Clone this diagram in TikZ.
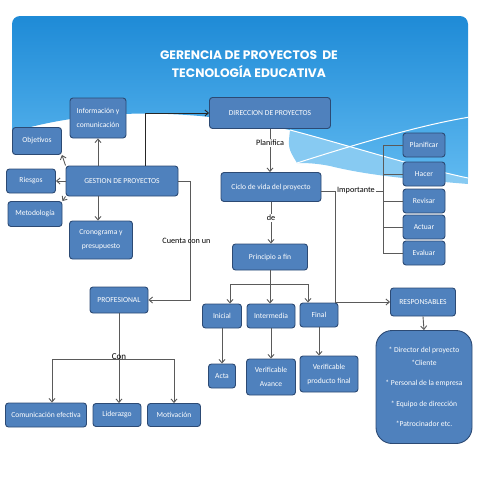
\documentclass[tikz,border=0pt]{standalone}
\usepackage{fontspec}
\setmainfont{Carlito}
\newfontfamily\titlefont{Poppins}
\usetikzlibrary{arrows.meta}
\definecolor{boxblue}{RGB}{79,129,189}
\definecolor{boxline}{RGB}{44,74,116}
\definecolor{linegray}{RGB}{90,90,90}
\definecolor{skytop}{RGB}{24,134,212}
\definecolor{skylow}{RGB}{95,185,240}
\definecolor{skylens}{RGB}{135,202,242}
\newcommand{\cajafont}{\fontsize{7.6}{14}\selectfont}
\newcommand{\etiqfont}{\fontsize{8.2}{9.5}\selectfont}
\tikzset{
  box/.style={draw=boxline, fill=boxblue, line width=0.9pt, rounded corners=3pt,
    text=white, font=\cajafont, align=center, inner sep=1pt},
  pdca/.style={box, minimum width=42pt, minimum height=24pt},
  link/.style={draw=linegray, line width=0.9pt, -{Straight Barb[length=3.5pt,width=6pt]}},
  tie/.style={draw=linegray, line width=0.9pt},
  lbl/.style={font=\etiqfont, inner sep=1pt},
}

\begin{document}
\begin{tikzpicture}[x=1pt, y=-1pt]
  \useasboundingbox (0,0) rectangle (480,480);
  % banner
  \begin{scope}
    \clip[rounded corners=8pt] (12,16) rectangle (468,200);
    \shade[top color=skytop, bottom color=skylow] (0,0) -- (480,0) -- (480,180) -- (468,178)
      .. controls (420,168) and (340,143) .. (290,130)
      .. controls (260,124) and (240,120) .. (200,116)
      .. controls (130,110) and (70,115) .. (12,132) -- (0,134) -- cycle;
    \fill[skylens] (290,130) .. controls (340,143) and (420,168) .. (468,178) -- (468,184)
      .. controls (420,180) and (370,176) .. (330,166)
      .. controls (315,163) and (305,163) .. (297,163)
      .. controls (288,148) .. (290,130) -- cycle;
    \draw[white, line width=1pt] (290,130) .. controls (340,143) and (420,168) .. (468,178);
    \draw[white, line width=1pt] (297,163) .. controls (350,146) and (420,125) .. (470,117);
  \end{scope}
  \node[font=\titlefont\bfseries\fontsize{12.3}{18}\selectfont, text=white, align=center] (titulo)
    at (249,64) {GERENCIA DE PROYECTOS\ \ DE\\TECNOLOGÍA EDUCATIVA};

  % gestion
  \node[box, minimum width=56pt, minimum height=40pt] (info) at (98,118) {Información y\\comunicación};
  \node[box, minimum width=121pt, minimum height=31pt] (dir) at (270,113) {DIRECCION DE PROYECTOS};
  \node[box, minimum width=49pt, minimum height=27pt] (obj) at (37,141) {Objetivos};
  \node[box, minimum width=112pt, minimum height=30pt] (gest) at (122,181) {GESTION DE PROYECTOS};
  \node[box, minimum width=49pt, minimum height=24pt] (ries) at (31,181) {Riesgos};
  \node[box, minimum width=54pt, minimum height=25pt] (meto) at (35,214) {Metodología};
  \node[box, minimum width=63pt, minimum height=38pt] (crono) at (101,240) {Cronograma y\\presupuesto};
  \node[box, minimum width=58pt, minimum height=26pt] (prof) at (119,300) {PROFESIONAL};
  \node[box, minimum width=81pt, minimum height=24pt] (comu) at (46,415) {Comunicación efectiva};
  \node[box, minimum width=48pt, minimum height=23pt] (lide) at (117,415) {Liderazgo};
  \node[box, minimum width=53pt, minimum height=23pt] (moti) at (174,415) {Motivación};

  % ciclo de vida
  \node[box, minimum width=100pt, minimum height=29pt] (ciclo) at (271,187) {Ciclo de vida del proyecto};
  \node[box, minimum width=75pt, minimum height=26pt] (princ) at (270,257) {Principio a fin};
  \node[box, minimum width=39pt, minimum height=24pt] (ini) at (222,316) {Inicial};
  \node[box, minimum width=48pt, minimum height=24pt] (inter) at (271,316) {Intermedia};
  \node[box, minimum width=38pt, minimum height=24pt] (fin) at (319,315) {Final};
  \node[box, minimum width=27pt, minimum height=24pt] (acta) at (222,376) {Acta};
  \node[box, minimum width=49pt, minimum height=36pt] (vava) at (271,377) {Verificable\\Avance};
  \node[box, minimum width=58pt, minimum height=36pt] (vfin) at (329,374) {Verificable\\producto final};
  \node[box, minimum width=65pt, minimum height=28pt] (resp) at (423,302) {RESPONSABLES};
  \node[box, rounded corners=16pt, minimum width=96pt, minimum height=113pt,
    font=\fontsize{7.6}{12.5}\selectfont] (lista) at (424,387)
    {* Director del proyecto\\*Cliente\\[8pt]* Personal de la empresa\\[8pt]* Equipo de dirección\\[8pt]*Patrocinador etc.};
  \foreach \n/\t/\y in {plan/Planificar/145, hacer/Hacer/174, revi/Revisar/201, actu/Actuar/227, eval/Evaluar/253}
    \node[pdca] (\n) at (424,\y) {\t};

  % links of gestion
  \draw[link] (gest.north -| info.south) -- (info.south);
  \draw[link] (gest.north west) -- (obj.south east);
  \draw[link] (gest.west) -- (ries.east);
  \draw[link] (gest.south west) -- (meto.north east);
  \draw[link] (gest.south -| info.south) -- (crono.north -| info.south);
  \draw[link, draw=black!85] ([xshift=23pt]gest.north) |- (dir.west);
  \draw[link] (gest.east) -- ++(12,0) |- node[lbl, pos=0.25, xshift=-4pt] (cuenta) {Cuenta con un} (prof.east);

  % links of direccion
  \draw[link] (dir.south) -- node[lbl, pos=0.32, fill=white] (planifica) {Planifica} (dir.south |- ciclo.north);
  \draw[link] (ciclo.south) -- node[lbl, pos=0.38, fill=white] (de) {de} (ciclo.south |- princ.north);
  \coordinate (brk) at (383,191);
  \draw[tie] ([yshift=-4pt]ciclo.east) -- node[lbl, fill=white, pos=0.56] (imp) {Importante} (brk);
  \draw[tie] (brk |- plan.west) -- (brk |- eval.west);
  \foreach \n in {plan,hacer,revi,actu,eval}
    \draw[tie] (brk |- \n.west) -- (\n.west);
  \draw[link] ([xshift=14pt,yshift=-4pt]ciclo.east) |- (resp.west);
  \draw[link] (resp.south) -- (lista.north);

  % principio a fin
  \draw[link] (princ.south) -- ++(0,14) -| ([xshift=8pt]ini.north);
  \draw[link] (princ.south) -- ++(0,14) -| ([xshift=-11pt]fin.north);
  \draw[link] (princ.south) -- (princ.south |- inter.north);
  \draw[link] (ini.south) -- (acta.north);
  \draw[link] (inter.south) -- (inter.south |- vava.north);
  \draw[link] (fin.south) -- (fin.south |- vfin.north);

  % profesional
  \draw[link] (prof.south) -- ++(0,46) coordinate (con) -| ([xshift=6pt]comu.north);
  \draw[link] (con) -| (moti.north);
  \draw[link] (prof.south) -- (prof.south |- lide.north);
  \node[lbl, font=\fontsize{9}{10}\selectfont] (conlbl) at ([yshift=3pt]con) {Con};
\end{tikzpicture}
\end{document}
